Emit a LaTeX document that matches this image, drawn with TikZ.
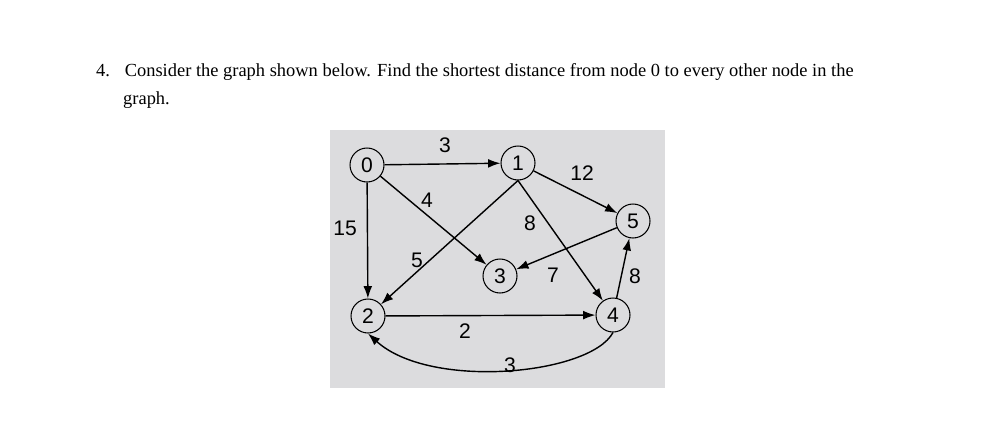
\documentclass[tikz,border=0pt]{standalone}
\usepackage{fontspec}
\setmainfont{Liberation Serif}
\newfontfamily\lab{Liberation Sans}
\usetikzlibrary{arrows.meta}
\begin{document}
\begin{tikzpicture}[x=0.02cm,y=-0.02cm,
  vx/.style={circle,draw,line width=0.6pt,minimum size=0.68cm,inner sep=0pt,font=\lab\fontsize{12}{12}\selectfont},
  ed/.style={draw,line width=0.8pt,-{Latex[length=7pt,width=5pt]}},
  wl/.style={font=\lab\fontsize{12}{12}\selectfont}]
\useasboundingbox (0,0) rectangle (993,420);
\fill[fill={rgb,255:red,220;green,220;blue,222}] (330,130) rectangle (665,388);
\node[anchor=base west,font=\fontsize{10.5}{12}\selectfont] (t1) at (90,76) {4.\hspace{0.8em}Consider the graph shown below. Find the shortest distance from node 0 to every other node in the};
\node[anchor=base west,font=\fontsize{10.5}{12}\selectfont] (t2) at (117,104) {graph.};
\node[vx] (n0) at (367,165) {0};
\node[vx] (n1) at (518,163) {1};
\node[vx] (n5) at (633,221) {5};
\node[vx] (n3) at (500,276) {3};
\node[vx] (n2) at (368,316) {2};
\node[vx] (n4) at (613,315) {4};
\draw[ed] (n0) -- (n1);
\draw[ed] (n0) -- (n2);
\draw[ed] (n0) -- (n3);
\draw[ed] (n1) -- (n5);
\draw[ed] (n1.south) -- (n2);
\draw[ed] (n1.south) -- (n4);
\draw[ed] (n5) -- (n3);
\draw[ed] (n4) -- (n5);
\draw[ed] (n2) -- (n4);
\draw[ed] (n4.south) .. controls (590,375) and (430,390) .. (n2.south);
\node[wl] (w1) at (445,145) {3};
\node[wl] (w2) at (582,173) {12};
\node[wl] (w3) at (427,200) {4};
\node[wl] (w4) at (345,228) {15};
\node[wl] (w5) at (530,223) {8};
\node[wl] (w6) at (417,260) {5};
\node[wl] (w7) at (553,275) {7};
\node[wl] (w8) at (635,276) {8};
\node[wl] (w9) at (465,331) {2};
\node[wl] (w10) at (510,365) {3};
\end{tikzpicture}
\end{document}
